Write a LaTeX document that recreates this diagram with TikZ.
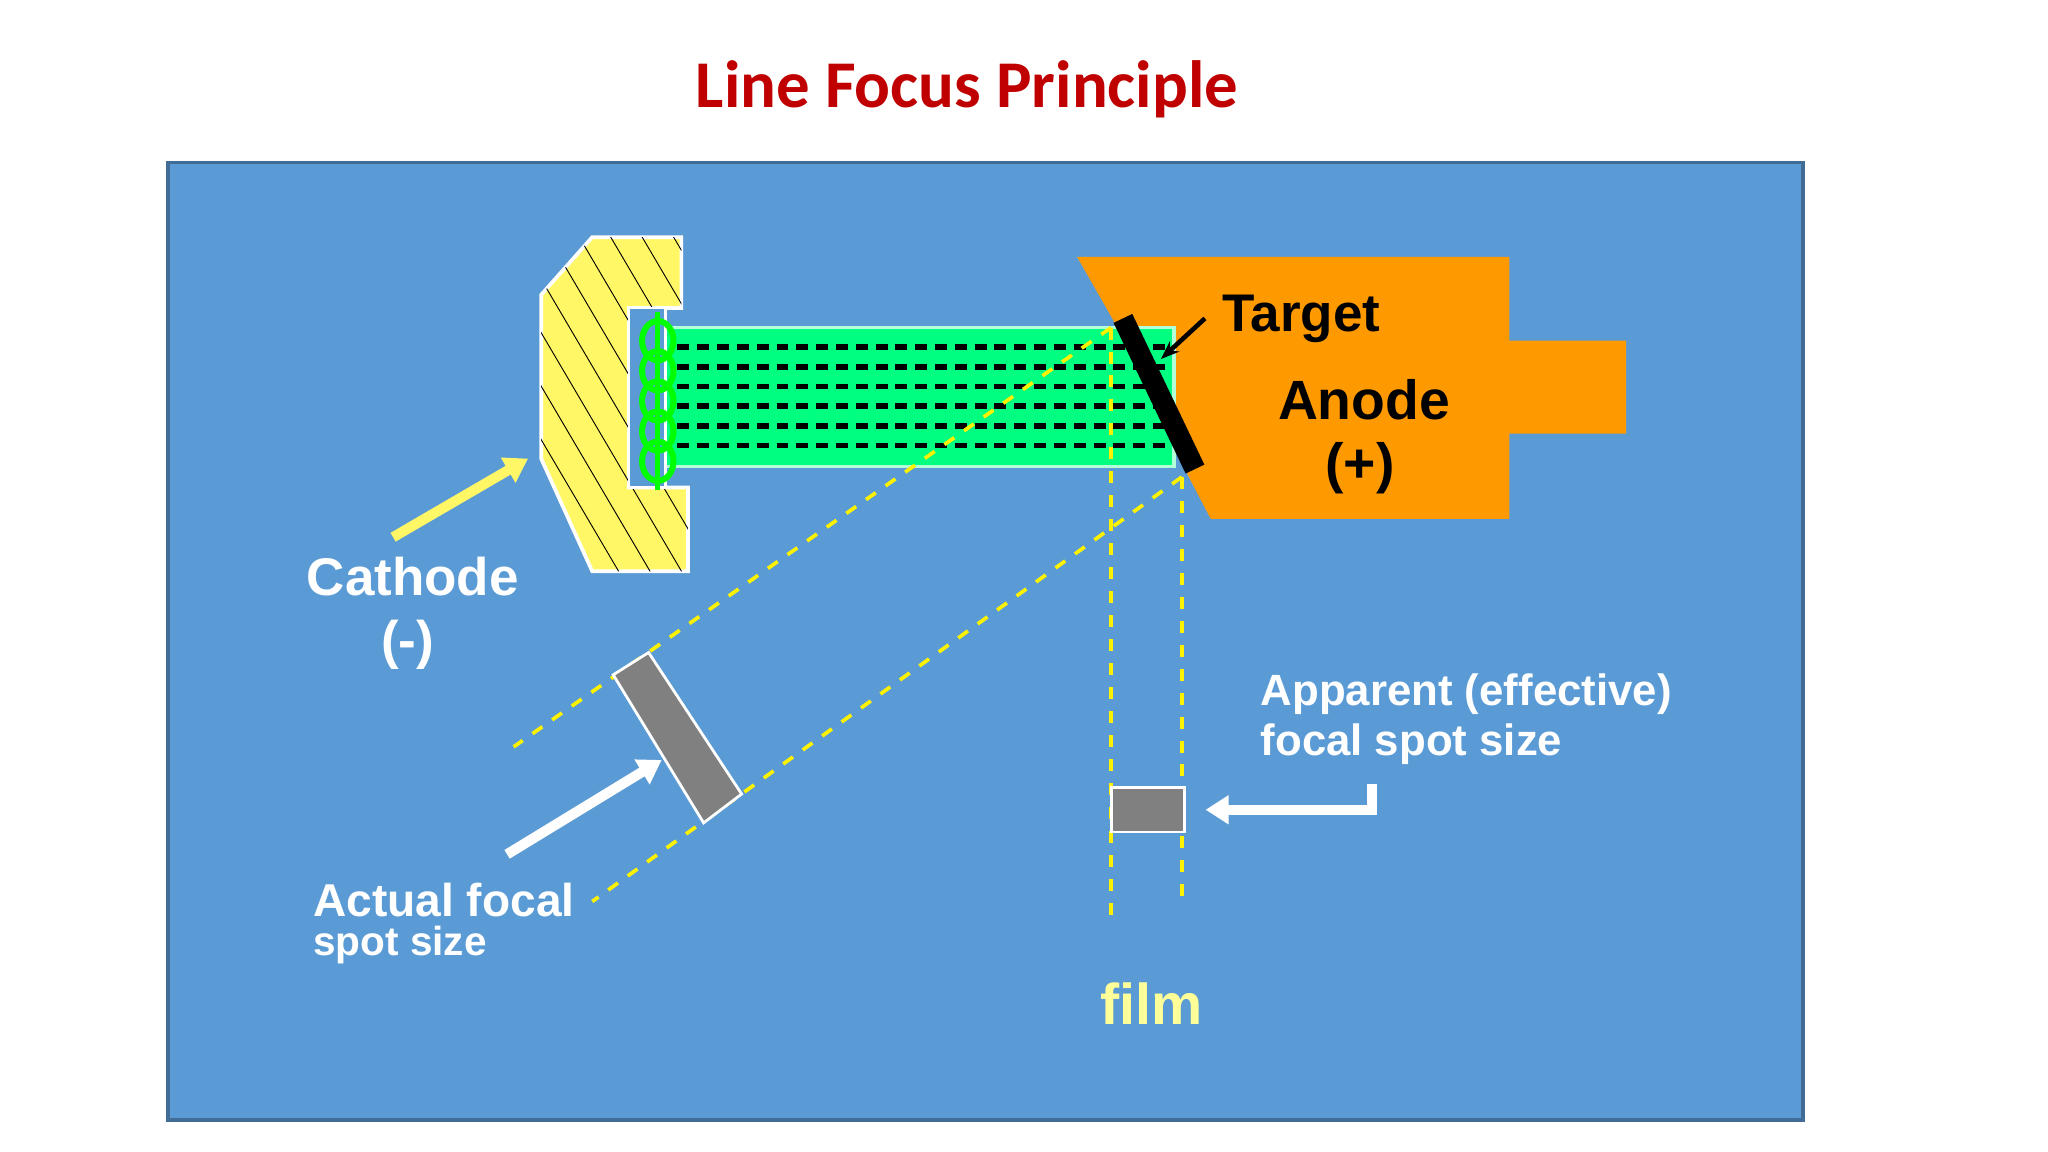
\documentclass[tikz,border=0pt]{standalone}
\usepackage{fontspec}
\setmainfont{Liberation Sans}
\newfontfamily\titlefont{Carlito}
\usetikzlibrary{arrows.meta}
\definecolor{bgblue}{HTML}{5B9BD5}
\definecolor{anodeorange}{HTML}{FF9900}
\definecolor{titlered}{HTML}{C00000}
\definecolor{filmyellow}{HTML}{FFFF99}
\definecolor{beamgreen}{HTML}{00FF80}
\begin{document}
\begin{tikzpicture}[x=0.01cm, y=-0.01cm, thick,
    label/.style={text=white, font=\bfseries\fontsize{11.5}{14}\selectfont},
    ray/.style={yellow, line width=0.8pt, dash pattern=on 2.6pt off 2.6pt},
    spot/.style={draw=white, fill=gray, line width=0.6pt},
    pointer/.style={-{Triangle[length=5pt,width=6pt]}, line width=2.2pt}]
		\useasboundingbox (0,0) rectangle (1563,879);
		\node (title) at (738,68) {\titlefont\bfseries\fontsize{14.5}{17}\selectfont\color{titlered}Line Focus Principle};
		\fill[bgblue, draw={bgblue!70!black}] (128,124) rectangle (1376,855);

		% anode and target
		\fill[anodeorange] (822,196) -- (1152,196) -- (1152,260) -- (1241,260) -- (1241,331) -- (1152,331) -- (1152,396) -- (924,396) -- (900,350) -- (850,245) -- cycle;
		\fill[beamgreen, draw=white!70!beamgreen, line width=0.7pt] (508,250) rectangle (896,356);
		\foreach \y in {265,280,...,340}
			\draw[black, line width=1.2pt, dash pattern=on 2.6pt off 1.7pt] (517,\y) -- (892,\y);
		\draw[black, line width=4.5pt] (857,243) -- (912,358);

		% cathode
		\draw[fill=yellow!60!white, draw=white, line width=0.8pt] (452,181) -- (520,181) -- (520,235) -- (480,235) -- (480,372) -- (525,372) -- (525,436) -- (452,436) -- (413,350) -- (413,225) -- cycle;
		\begin{scope}
			\clip (452,181) -- (520,181) -- (520,235) -- (480,235) -- (480,372) -- (525,372) -- (525,436) -- (452,436) -- (413,350) -- (413,225) -- cycle;
			\foreach \x in {250,274,...,600}
				\draw[black, line width=0.2pt] (\x,140) -- (\x+200,480);
		\end{scope}
		\fill[bgblue, draw=white, line width=0.5pt] (480,235) rectangle (508,372);
		\foreach \y in {260,283,306,329,352}
			\draw[green, line width=1.3pt] (502,\y) ellipse (12 and 15);
		\draw[green, line width=1pt] (502,238) -- (502,374);

		% rays
		\coordinate (t1) at (848,250);
		\coordinate (t2) at (902,364);
		\draw[ray] (t1) -- (392,570);
		\draw[ray] (t2) -- (452,688);
		\draw[ray] (t1) -- (848,702);
		\draw[ray] (t2) -- (902,690);

		% focal spots
		\draw[spot] (468,515) -- (495,498) -- (566,606) -- (537,628) -- cycle;
		\node[spot, minimum width=56*0.01cm, minimum height=34*0.01cm, inner sep=0pt] (eff) at (876,618) {};

		% labels and pointers
		\node[font=\bfseries\fontsize{11.5}{14}\selectfont] (target) at (993,243) {Target};
		\node[font=\bfseries\fontsize{12}{14}\selectfont] (anode) at (1041,305) {Anode};
		\node[font=\bfseries\fontsize{12}{14}\selectfont] (plus) at (1038,357) {(+)};
		\coordinate (tgt) at (886,274);
		\draw[-{Stealth[length=4pt]}, line width=1pt] (target.west) -- (tgt);

		\node[label] (cathode) at (315,440) {Cathode};
		\node[label] (minus) at (311,492) {(-)};
		\coordinate (cat) at (403,350);
		\draw[pointer, yellow!60!white] (300,410) -- (cat);

		\node[label, anchor=west, font=\bfseries\fontsize{10}{12}\selectfont] (actual) at (226,687) {Actual focal};
		\node[label, anchor=west, font=\bfseries\fontsize{8.8}{12}\selectfont] (size1) at (226,721) {spot size};
		\coordinate (act) at (505,580);
		\draw[pointer, white] (387,652) -- (act);

		\node[label, anchor=west, font=\bfseries\fontsize{9.5}{12}\selectfont] (apparent) at (949,530) {Apparent (effective)};
		\node[label, anchor=west, font=\bfseries\fontsize{9.5}{12}\selectfont] (size2) at (949,568) {focal spot size};
		\coordinate (bend) at (1047,598);
		\draw[pointer, white] (bend) |- ([xshift=0.15cm]eff.east);

		\node[font=\bfseries\fontsize{12.5}{15}\selectfont, text=filmyellow] (film) at (879,766) {film};
	\end{tikzpicture}
\end{document}
